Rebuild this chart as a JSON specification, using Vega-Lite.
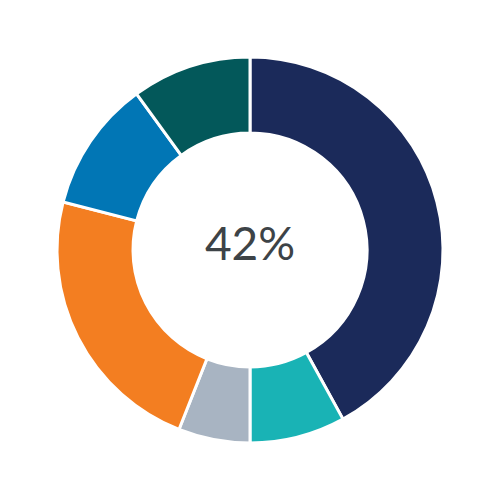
{
  "$schema": "https://vega.github.io/schema/vega-lite/v6.json",
  "width": 500,
  "height": 500,
  "autosize": {"type": "fit", "contains": "padding"},
  "padding": 0,
  "background": "white",
  "config": {"view": {"stroke": null}},
  "layer": [
    {
      "data": {
        "values": [
          {"segment": "A", "value": 42, "order": 1},
          {"segment": "B", "value": 8, "order": 2},
          {"segment": "C", "value": 6, "order": 3},
          {"segment": "D", "value": 23, "order": 4},
          {"segment": "E", "value": 11, "order": 5},
          {"segment": "F", "value": 10, "order": 6}
        ]
      },
      "mark": {"type": "arc", "outerRadius": 193, "innerRadius": 117, "stroke": "white", "strokeWidth": 3},
      "encoding": {
        "theta": {"field": "value", "type": "quantitative", "stack": true},
        "order": {"field": "order", "type": "quantitative"},
        "color": {
          "field": "segment",
          "type": "nominal",
          "legend": null,
          "scale": {
            "domain": ["A", "B", "C", "D", "E", "F"],
            "range": ["#1b2a5a", "#19b3b5", "#a8b4c2", "#f37e21", "#0176b5", "#03585a"]
          }
        }
      }
    },
    {
      "data": {"values": [{"label": "42%"}]},
      "mark": {"type": "text", "font": "Lato", "fontSize": 46, "color": "#3d4347", "align": "center", "baseline": "middle", "dy": -4},
      "encoding": {"text": {"field": "label", "type": "nominal"}}
    }
  ]
}
